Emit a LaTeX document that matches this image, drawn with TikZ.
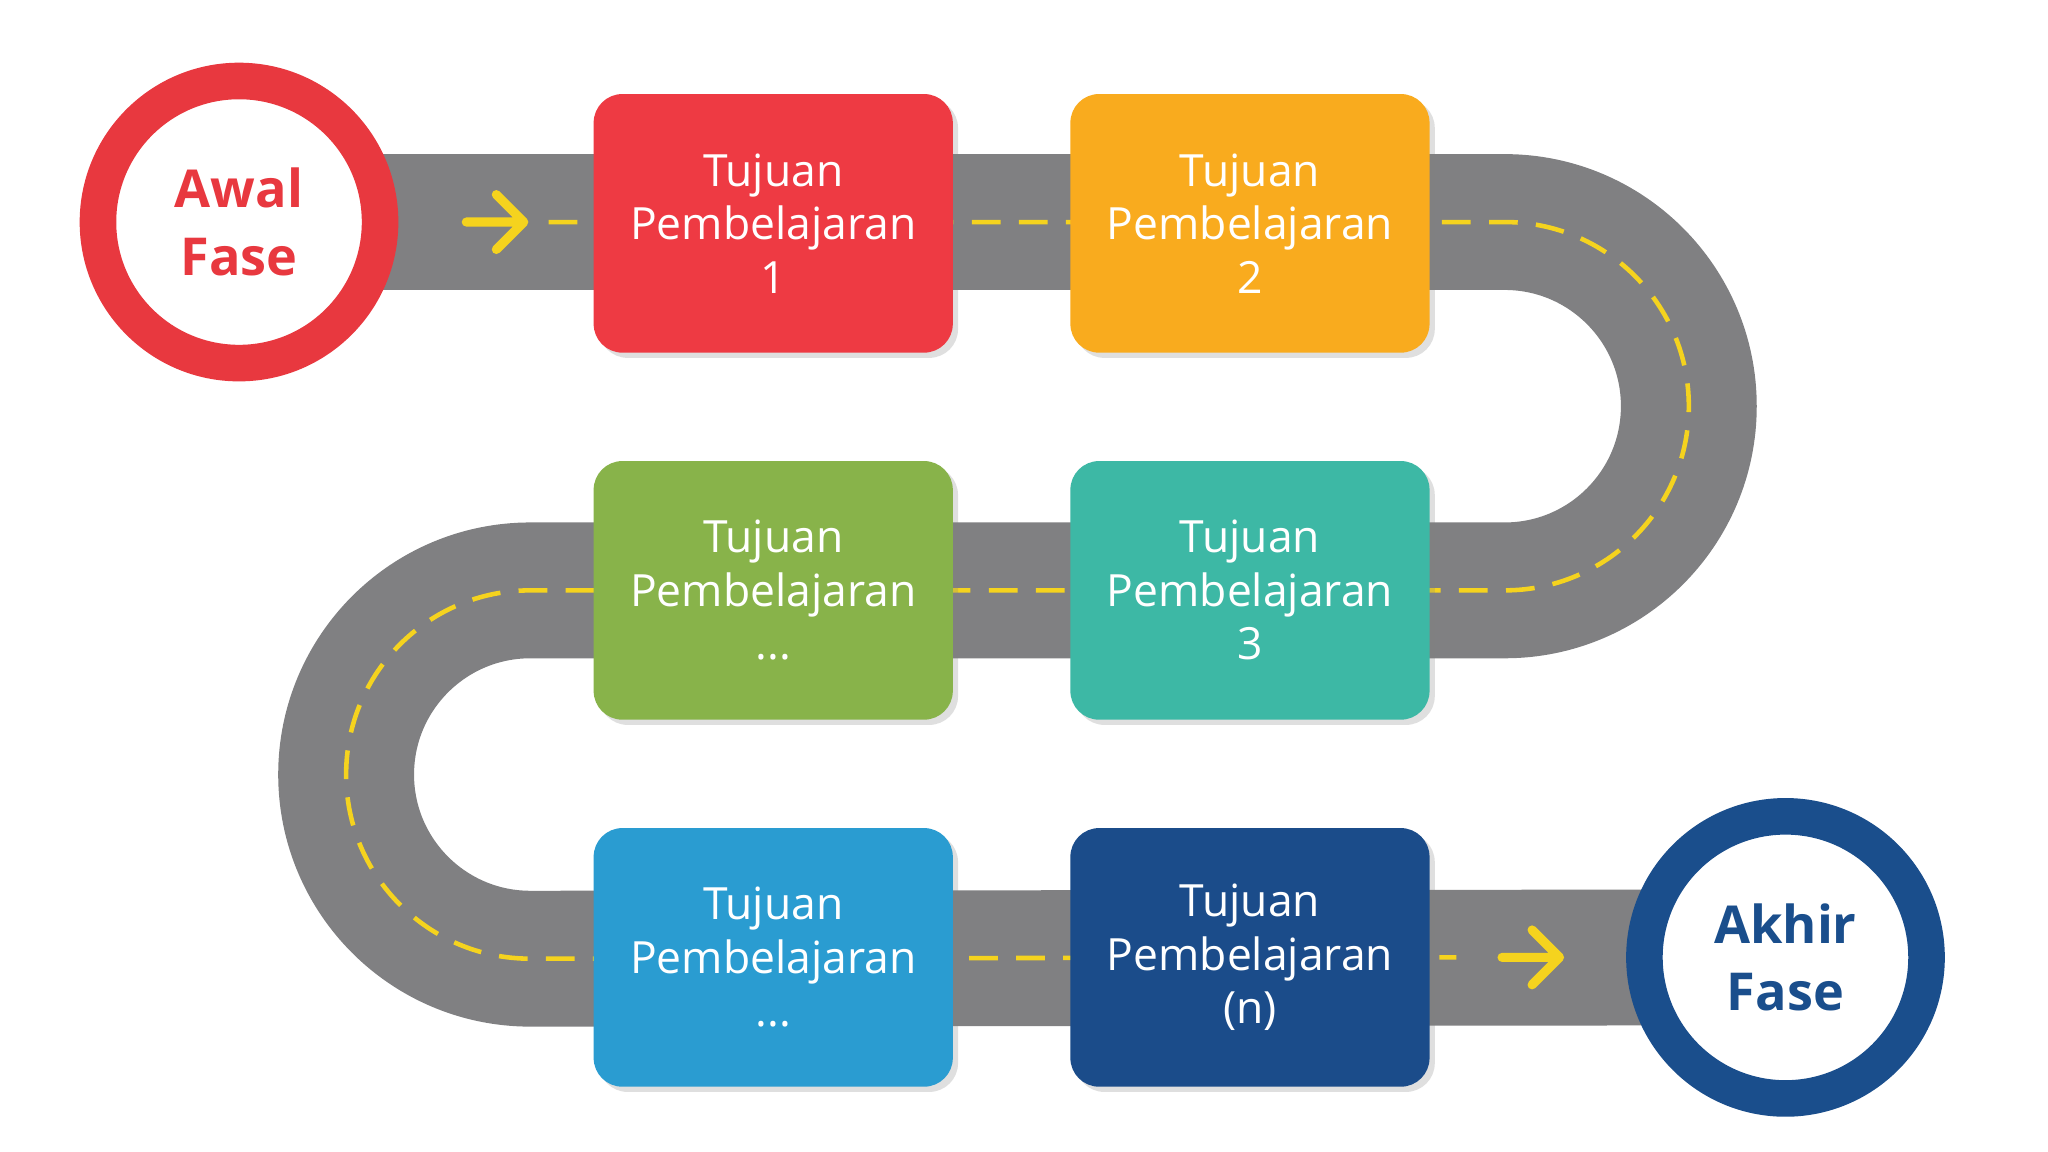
\documentclass[tikz,border=0pt]{standalone}
\usepackage{fontspec}
\setmainfont{Open Sans}
\usetikzlibrary{shadows}
\definecolor{road}{HTML}{808082}
\definecolor{lane}{HTML}{F5D31E}
\definecolor{cRed}{HTML}{EE3A43}
\definecolor{cOra}{HTML}{F9AB1E}
\definecolor{cGre}{HTML}{88B34A}
\definecolor{cTea}{HTML}{3DB8A5}
\definecolor{cBlu}{HTML}{2A9CD1}
\definecolor{cNav}{HTML}{1B4C8A}
\definecolor{ringR}{HTML}{E8383F}
\definecolor{ringB}{HTML}{1A4E8C}
\begin{document}
\begin{tikzpicture}[x=1pt,y=-1pt,
  tbox/.style={rounded corners=22pt,minimum width=275pt,minimum height=198pt,text=white,align=center,
    font=\fontsize{34}{41}\selectfont,inner sep=0pt,
    drop shadow={shadow xshift=4pt,shadow yshift=-4pt,opacity=0.25}},
  ring/.style={circle,line width=28pt,fill=white,minimum size=216pt,align=center,font=\bfseries\fontsize{40}{52}\selectfont},
  chev/.style={lane,line width=7pt,line cap=round,line join=round}]
\useasboundingbox (0,0) rectangle (1568,882);
\fill[white] (0,0) rectangle (1568,882);
\coordinate (s) at (183,170);
\coordinate (e) at (1367,733);
% road
\draw[road,line width=104pt] (s) -- (1152,170) arc[start angle=-90,end angle=90,radius=141] -- (406,452) arc[start angle=-90,end angle=-270,radius=141] -- (e);
\draw[lane,line width=3.5pt,dash pattern=on 22pt off 14pt] (420,170) -- (1152,170) arc[start angle=-90,end angle=90,radius=141] -- (406,452) arc[start angle=-90,end angle=-270,radius=141] -- (1115,733);
% arrows
\draw[chev] (357,170) -- (400,170) (380,149) -- (401,170) -- (380,191);
\draw[chev] (1150,733) -- (1193,733) (1173,712) -- (1194,733) -- (1173,754);
% boxes
\node[tbox,fill=cRed] (b1) at (592,171) {Tujuan\\Pembelajaran\\1};
\node[tbox,fill=cOra] (b2) at (957,171) {Tujuan\\Pembelajaran\\2};
\node[tbox,fill=cGre] (b4) at (592,452) {Tujuan\\Pembelajaran\\...};
\node[tbox,fill=cTea] (b3) at (957,452) {Tujuan\\Pembelajaran\\3};
\node[tbox,fill=cBlu] (b5) at (592,733) {Tujuan\\Pembelajaran\\...};
\node[tbox,fill=cNav] (b6) at (957,733) {Tujuan\\Pembelajaran\\(n)};
% circles
\node[ring,draw=ringR,text=ringR] (start) at (s) {Awal\\Fase};
\node[ring,draw=ringB,text=ringB] (end) at (e) {Akhir\\Fase};
\end{tikzpicture}
\end{document}
